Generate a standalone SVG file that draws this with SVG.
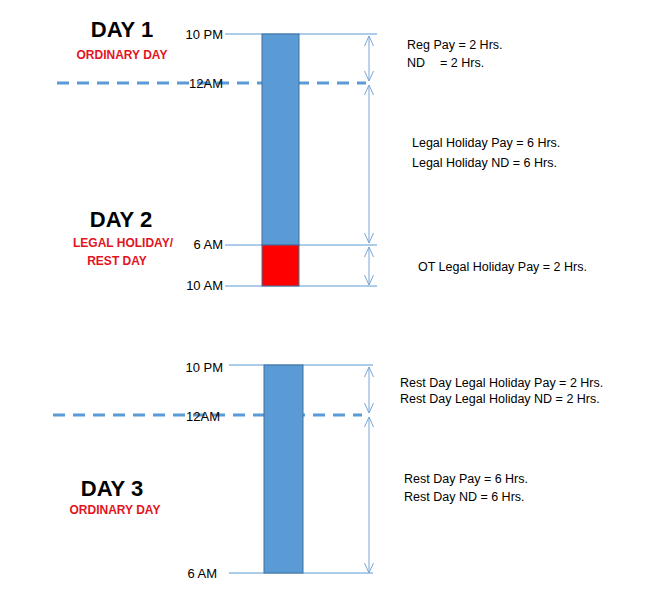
<svg xmlns="http://www.w3.org/2000/svg" width="659" height="595" viewBox="0 0 659 595">
<style>
.lbl{font-family:"Liberation Sans",Arial,sans-serif;font-size:13px;fill:#000}
.note{font-family:"Liberation Sans",Arial,sans-serif;font-size:12.5px;fill:#000}
.day{font-family:"Liberation Sans",Arial,sans-serif;font-size:22px;font-weight:bold;fill:#000;text-anchor:middle}
.sub{font-family:"Liberation Sans",Arial,sans-serif;font-size:12px;font-weight:bold;fill:#e3141e;text-anchor:middle}
.tick{stroke:#5b9bd5;stroke-width:1}
.dash{stroke:#5b9bd5;stroke-width:3;stroke-dasharray:12 8}
.bar{fill:#5b9bd5;stroke:#41719c;stroke-width:1}
.ot{fill:#ff0000;stroke:#41719c;stroke-width:1}
.arr{stroke:#7aa6d8;stroke-width:1;fill:none;marker-start:url(#ah);marker-end:url(#ah)}
</style>
<defs>
<marker id="ah" viewBox="0 0 10 10" refX="10" refY="5" markerWidth="10" markerHeight="10" markerUnits="userSpaceOnUse" orient="auto-start-reverse">
<path d="M0,0.5 L10,5 L0,9.5" fill="none" stroke="#7aa6d8" stroke-width="1"/>
</marker>
</defs>
<rect width="659" height="595" fill="#fff"/>

<g id="day1-2">
<line class="dash" x1="57" y1="83" x2="366" y2="83"/>
<line class="tick" x1="225" y1="34" x2="377" y2="34"/>
<line class="tick" x1="225" y1="245" x2="377" y2="245"/>
<line class="tick" x1="225" y1="286" x2="377" y2="286"/>
<rect id="bar1" class="bar" x="262" y="34" width="37" height="211"/>
<rect id="ot1" class="ot" x="262" y="245" width="37" height="41"/>
<text class="lbl" x="223" y="39" text-anchor="end">10 PM</text>
<text class="lbl" x="223" y="88" text-anchor="end">12AM</text>
<text class="lbl" x="223" y="249" text-anchor="end">6 AM</text>
<text class="lbl" x="223" y="290" text-anchor="end">10 AM</text>
<text class="day" x="122" y="37">DAY 1</text>
<text class="sub" x="122" y="59">ORDINARY DAY</text>
<text class="day" x="121" y="227">DAY 2</text>
<text class="sub" x="123" y="247">LEGAL HOLIDAY/</text>
<text class="sub" x="117" y="265">REST DAY</text>
<text class="note" x="407" y="49">Reg Pay = 2 Hrs.</text>
<text class="note" x="407" y="67">ND <tspan x="440">= 2 Hrs.</tspan></text>
<text class="note" x="412" y="147">Legal Holiday Pay = 6 Hrs.</text>
<text class="note" x="412" y="167">Legal Holiday ND = 6 Hrs.</text>
<text class="note" x="418" y="271">OT Legal Holiday Pay = 2 Hrs.</text>
</g>

<g id="day3">
<line class="dash" x1="53" y1="415" x2="362" y2="415"/>
<line class="tick" x1="229" y1="365" x2="373" y2="365"/>
<line class="tick" x1="229" y1="573" x2="373" y2="573"/>
<rect id="bar3" class="bar" x="264" y="365" width="39" height="208"/>
<text class="lbl" x="223" y="372" text-anchor="end">10 PM</text>
<text class="lbl" x="220" y="421" text-anchor="end">12AM</text>
<text class="lbl" x="217" y="578" text-anchor="end">6 AM</text>
<text class="day" x="112" y="496">DAY 3</text>
<text class="sub" x="115" y="514">ORDINARY DAY</text>
<text class="note" x="400" y="387">Rest Day Legal Holiday Pay = 2 Hrs.</text>
<text class="note" x="400" y="403">Rest Day Legal Holiday ND = 2 Hrs.</text>
<text class="note" x="404" y="483">Rest Day Pay = 6 Hrs.</text>
<text class="note" x="404" y="501">Rest Day ND = 6 Hrs.</text>
</g>

<g id="connectors">
<line class="arr" x1="369" y1="36" x2="369" y2="81"/>
<line class="arr" x1="369" y1="85" x2="369" y2="243"/>
<line class="arr" x1="369" y1="247" x2="369" y2="285"/>
<line class="arr" x1="369" y1="367" x2="369" y2="413"/>
<line class="arr" x1="369" y1="417" x2="369" y2="573"/>
</g>
</svg>
